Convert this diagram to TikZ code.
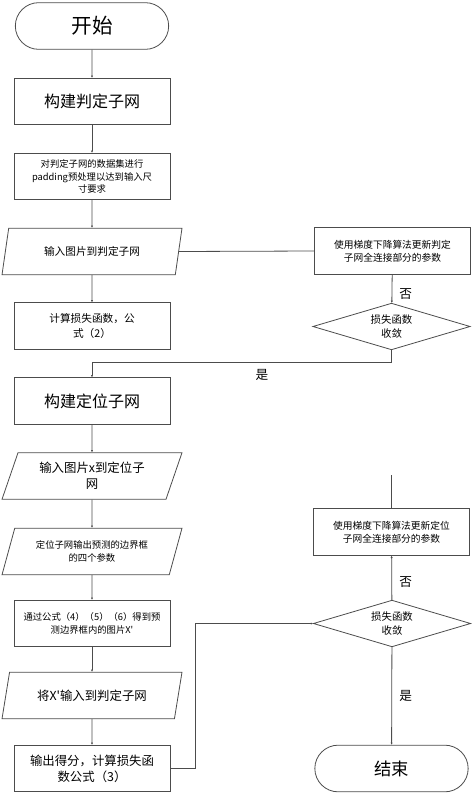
\documentclass[tikz,border=0pt]{standalone}
\usepackage{fontspec}
\setmainfont{Noto Sans CJK SC}[Ligatures=TeXOff]
\usetikzlibrary{arrows.meta,positioning,shapes.geometric,shapes.misc}

\begin{document}
\begin{tikzpicture}[x=0.75pt,y=-0.75pt,
  line/.style={draw=black!70, line width=0.6pt, -{Latex[length=1.6pt,width=1.6pt]}},
  box/.style={draw=black!70, line width=0.6pt, minimum width=117pt, minimum height=35pt, align=center, inner sep=1pt},
  io/.style={box, trapezium, trapezium left angle=62, trapezium right angle=118, trapezium stretches body, minimum width=135pt},
  term/.style={box, rounded rectangle},
  decide/.style={box, diamond, aspect=3.3, inner sep=0pt, minimum width=118pt},
  big/.style={font=\fontsize{15.5}{18}\selectfont},
  mid/.style={font=\fontsize{12}{15}\selectfont},
  sml/.style={font=\fontsize{9.3}{12}\selectfont},
  tiny/.style={font=\fontsize{7}{9.5}\selectfont},
  lbl/.style={font=\fontsize{9.5}{11}\selectfont}]
\useasboundingbox (0,0) rectangle (474,795);
% left column: discriminator
\node[term, big] (start) at (92,26) {开始};
\node[box, mid] (buildD) at (92,101.5) {构建判定子网};
\node[box, tiny] (pad) at (92,176.5) {对判定子网的数据集进行\\padding预处理以达到输入尺\\寸要求};
\node[io, tiny, font=\fontsize{8}{10}\selectfont] (inD) at (92,251.5) {输入图片到判定子网};
\node[box, font=\fontsize{8}{11}\selectfont] (lossD) at (92,326) {计算损失函数，公\\式（2）};
% right column: discriminator update
\node[box, font=\fontsize{7.3}{10}\selectfont] (updD) at (392.5,251) {使用梯度下降算法更新判定\\子网全连接部分的参数};
\node[decide, font=\fontsize{7.8}{10.5}\selectfont] (convD) at (391.5,326.5) {损失函数\\收敛};
% left column: locator
\node[box, mid] (buildL) at (92,401) {构建定位子网};
\node[io, sml] (inL) at (92,476) {输入图片x到定位子\\网};
\node[io, tiny] (outL) at (92,551.5) {定位子网输出预测的边界框\\的四个参数};
\node[box, tiny] (crop) at (92,623.5) {通过公式（4）（5）（6）得到预\\测边界框内的图片X'};
\node[io, sml] (inX) at (92,695.5) {将X'输入到判定子网};
\node[box, sml] (score) at (92,768.5) {输出得分，计算损失函\\数公式（3）};
% right column: locator update
\node[box, font=\fontsize{7.3}{10}\selectfont] (updL) at (391.5,532) {使用梯度下降算法更新定位\\子网全连接部分的参数};
\node[decide, font=\fontsize{7.8}{10.5}\selectfont] (convL) at (392,623.5) {损失函数\\收敛};
\node[term, font=\fontsize{13}{15}\selectfont] (stop) at (391.5,768.5) {结束};
\coordinate (loopTop) at (391.5,475);
\coordinate (bend) at (195,0);
% connectors
\draw[line] (start) -- (buildD);
\draw[line] (buildD) -- (pad);
\draw[line] (pad) -- (inD);
\draw[line] (inD) -- (lossD);
\draw[line, -] (inD.east) -- (updD.west);
\draw[line] (updD) -- (convD) node[pos=0.7, right=2pt, lbl] (no1) {否};
\draw[line] (convD.south) |- (92,362) -- (buildL.north);
\node[lbl] (yes1) at (262,375) {是};
\draw[line] (buildL) -- (inL);
\draw[line] (inL) -- (outL);
\draw[line] (outL) -- (crop);
\draw[line] (crop) -- (inX);
\draw[line] (inX) -- (score);
\draw[line] (score.east) -| (bend |- convL.west) -- (convL.west);
\draw[line] (convL) -- (updL) node[pos=0.4, right=2pt, lbl] (no2) {否};
\draw[line, -] (updL) -- (loopTop);
\draw[line] (convL) -- (stop) node[pos=0.5, right=2pt, lbl] (yes2) {是};
\end{tikzpicture}
\end{document}
